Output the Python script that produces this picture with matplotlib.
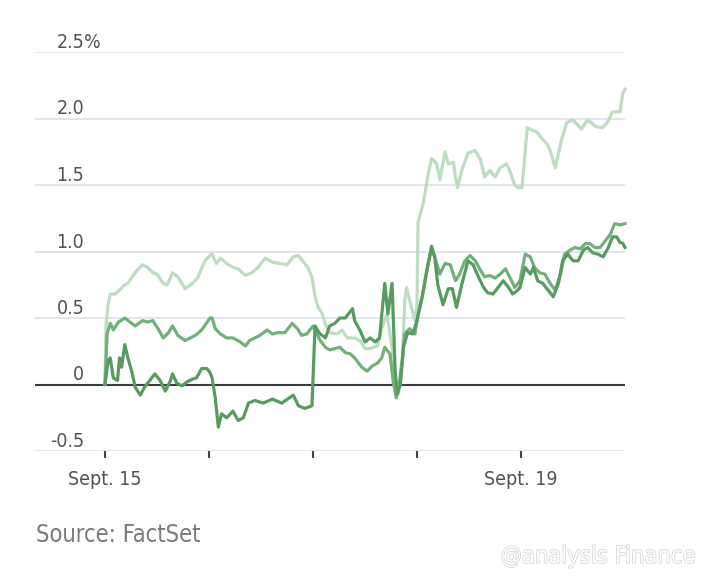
import matplotlib
matplotlib.use("Agg")
import matplotlib.pyplot as plt
import matplotlib.patheffects as pe

plt.rcParams['font.family'] = ['DejaVu Sans']
plt.rcParams['font.stretch'] = 'condensed'

# time in trading days since the open of Sept. 15
light_t = [0.00, 0.01, 0.03, 0.05, 0.10, 0.14, 0.19, 0.22, 0.26, 0.31, 0.36, 0.41, 0.46, 0.50, 0.56, 0.60,
           0.65, 0.70, 0.77, 0.84, 0.89, 0.96, 1.01, 1.03, 1.07, 1.11, 1.17, 1.23, 1.28, 1.35, 1.41, 1.47,
           1.54, 1.61, 1.68, 1.75, 1.81, 1.86, 1.90, 1.95, 1.99, 2.02, 2.05, 2.09, 2.12, 2.16, 2.23, 2.28,
           2.33, 2.40, 2.45, 2.50, 2.55, 2.62, 2.66, 2.71, 2.76, 2.79, 2.82, 2.86, 2.88, 2.90, 2.93, 2.98,
           3.00, 3.01, 3.06, 3.11, 3.14, 3.19, 3.22, 3.27, 3.30, 3.35, 3.37, 3.39, 3.43, 3.49, 3.56, 3.61,
           3.65, 3.70, 3.75, 3.80, 3.86, 3.89, 3.94, 3.97, 4.01, 4.06, 4.11, 4.15, 4.20, 4.25, 4.28, 4.33,
           4.39, 4.44, 4.50, 4.58, 4.64, 4.72, 4.78, 4.83, 4.88, 4.95, 4.98, 5.00]
light_v = [0.00, 0.45, 0.60, 0.68, 0.68, 0.71, 0.75, 0.76, 0.81, 0.86, 0.90, 0.88, 0.84, 0.83, 0.76, 0.75,
           0.84, 0.81, 0.72, 0.76, 0.80, 0.93, 0.97, 0.98, 0.91, 0.95, 0.91, 0.88, 0.87, 0.82, 0.84, 0.88,
           0.95, 0.92, 0.91, 0.90, 0.96, 0.97, 0.93, 0.88, 0.81, 0.66, 0.58, 0.53, 0.45, 0.39, 0.38, 0.41,
           0.35, 0.35, 0.33, 0.27, 0.27, 0.29, 0.42, 0.53, 0.28, 0.03, -0.07, 0.16, 0.61, 0.73, 0.63, 0.48,
           0.60, 1.22, 1.36, 1.59, 1.70, 1.66, 1.54, 1.75, 1.66, 1.67, 1.56, 1.48, 1.61, 1.74, 1.76, 1.69,
           1.56, 1.61, 1.56, 1.63, 1.66, 1.61, 1.50, 1.48, 1.48, 1.93, 1.91, 1.90, 1.85, 1.81, 1.76, 1.63,
           1.84, 1.97, 1.99, 1.92, 1.99, 1.94, 1.93, 1.97, 2.05, 2.05, 2.19, 2.22]

medium_t = [0.00, 0.02, 0.05, 0.08, 0.13, 0.19, 0.24, 0.29, 0.36, 0.41, 0.46, 0.51, 0.56, 0.61, 0.65, 0.70,
            0.77, 0.82, 0.87, 0.93, 1.01, 1.03, 1.06, 1.11, 1.17, 1.23, 1.30, 1.35, 1.39, 1.44, 1.49, 1.56,
            1.61, 1.66, 1.73, 1.80, 1.85, 1.89, 1.94, 2.00, 2.05, 2.07, 2.12, 2.16, 2.21, 2.26, 2.31, 2.36,
            2.40, 2.47, 2.52, 2.57, 2.62, 2.66, 2.69, 2.74, 2.77, 2.80, 2.82, 2.86, 2.88, 2.93, 2.98, 3.01,
            3.05, 3.10, 3.14, 3.17, 3.22, 3.27, 3.32, 3.37, 3.41, 3.46, 3.51, 3.56, 3.61, 3.65, 3.70, 3.75,
            3.80, 3.85, 3.89, 3.94, 3.99, 4.04, 4.09, 4.13, 4.18, 4.23, 4.28, 4.33, 4.38, 4.42, 4.47, 4.52,
            4.57, 4.62, 4.66, 4.71, 4.76, 4.81, 4.86, 4.90, 4.95, 5.00]
medium_v = [0.00, 0.38, 0.46, 0.41, 0.47, 0.50, 0.47, 0.44, 0.48, 0.47, 0.48, 0.42, 0.35, 0.39, 0.44, 0.37,
            0.33, 0.35, 0.37, 0.41, 0.50, 0.50, 0.42, 0.38, 0.35, 0.35, 0.32, 0.29, 0.33, 0.35, 0.37, 0.41,
            0.38, 0.39, 0.39, 0.46, 0.42, 0.37, 0.38, 0.44, 0.36, 0.33, 0.28, 0.26, 0.27, 0.28, 0.24, 0.23,
            0.20, 0.13, 0.10, 0.14, 0.16, 0.20, 0.28, 0.23, 0.03, -0.10, -0.05, 0.20, 0.38, 0.42, 0.38, 0.53,
            0.66, 0.88, 1.02, 0.96, 0.83, 0.91, 0.90, 0.78, 0.83, 0.93, 0.97, 0.93, 0.86, 0.81, 0.82, 0.80,
            0.83, 0.87, 0.81, 0.73, 0.78, 0.98, 0.96, 0.88, 0.84, 0.83, 0.76, 0.71, 0.83, 0.98, 1.01, 1.03,
            1.02, 1.06, 1.06, 1.03, 1.03, 1.08, 1.13, 1.21, 1.20, 1.21]

dark_t = [0.00, 0.03, 0.05, 0.08, 0.12, 0.14, 0.16, 0.19, 0.22, 0.26, 0.29, 0.34, 0.38, 0.43, 0.48, 0.53,
          0.58, 0.63, 0.65, 0.69, 0.74, 0.79, 0.84, 0.88, 0.93, 0.98, 1.01, 1.03, 1.06, 1.09, 1.12, 1.17,
          1.23, 1.28, 1.33, 1.38, 1.44, 1.52, 1.61, 1.70, 1.81, 1.86, 1.92, 1.99, 2.02, 2.05, 2.07, 2.12,
          2.16, 2.21, 2.26, 2.31, 2.38, 2.40, 2.45, 2.50, 2.55, 2.60, 2.64, 2.69, 2.72, 2.76, 2.79, 2.81,
          2.84, 2.87, 2.91, 2.96, 3.00, 3.05, 3.10, 3.14, 3.17, 3.20, 3.25, 3.30, 3.34, 3.38, 3.43, 3.49,
          3.54, 3.59, 3.64, 3.68, 3.73, 3.78, 3.83, 3.88, 3.92, 3.97, 3.99, 4.04, 4.09, 4.12, 4.16, 4.21,
          4.26, 4.31, 4.36, 4.40, 4.45, 4.50, 4.55, 4.60, 4.64, 4.69, 4.74, 4.79, 4.84, 4.88, 4.92, 4.95,
          4.98, 5.00]
dark_v = [0.00, 0.18, 0.20, 0.05, 0.03, 0.20, 0.13, 0.30, 0.20, 0.09, -0.02, -0.08, -0.02, 0.03, 0.08, 0.03,
          -0.05, 0.03, 0.08, 0.01, -0.01, 0.02, 0.04, 0.05, 0.12, 0.12, 0.09, 0.05, -0.10, -0.32, -0.22, -0.25,
          -0.20, -0.27, -0.25, -0.14, -0.12, -0.14, -0.11, -0.14, -0.08, -0.16, -0.18, -0.16, 0.44, 0.40, 0.38, 0.35,
          0.44, 0.46, 0.50, 0.50, 0.57, 0.48, 0.41, 0.32, 0.35, 0.32, 0.35, 0.76, 0.53, 0.76, 0.10, -0.07,
          0.00, 0.28, 0.39, 0.38, 0.48, 0.66, 0.88, 1.04, 0.96, 0.75, 0.60, 0.72, 0.72, 0.58, 0.75, 0.93,
          0.90, 0.81, 0.73, 0.69, 0.68, 0.73, 0.78, 0.73, 0.68, 0.71, 0.73, 0.88, 0.83, 0.88, 0.78, 0.76,
          0.71, 0.66, 0.76, 0.93, 0.98, 0.93, 0.93, 1.01, 1.03, 0.99, 0.98, 0.96, 1.03, 1.11, 1.11, 1.07,
          1.06, 1.03]

y_ticks = [-0.5, 0.0, 0.5, 1.0, 1.5, 2.0, 2.5]
y_labels = ['-0.5', '0', '0.5', '1.0', '1.5', '2.0', '2.5']
day_ticks = [0, 1, 2, 3, 4]
day_labels = ['Sept. 15', '', '', '', 'Sept. 19']

LIGHT = '#bedcc2'
MEDIUM = '#72b07b'
DARK = '#579b61'
GRID = '#dfe4ea'
TEXT = '#505255'

fig = plt.figure(figsize=(7.04, 5.84), dpi=100)
ax = fig.add_axes([35/704, 1 - 451/584, 590/704, 399/584])
ax.set_xlim(-0.673, 5.0)
ax.set_ylim(-0.5, 2.5)

for v in y_ticks:
    if v == 0:
        ax.axhline(v, color='#3a3d42', lw=1.5, zorder=1)
    else:
        ax.axhline(v, color=GRID, lw=1.3, zorder=1)

ax.plot(light_t, light_v, color=LIGHT, lw=2.3, zorder=2, solid_joinstyle='round', clip_on=False)
ax.plot(medium_t, medium_v, color=MEDIUM, lw=2.3, zorder=3, solid_joinstyle='round', clip_on=False)
ax.plot(dark_t, dark_v, color=DARK, lw=2.3, zorder=4, solid_joinstyle='round', clip_on=False)

for v, lab in zip(y_ticks, y_labels):
    ax.annotate(lab, xy=(-0.2, v), xytext=(0, 0), textcoords='offset points',
                ha='right', va='bottom', fontsize=14, color=TEXT)
    if v == 2.5:
        ax.annotate('%', xy=(-0.2, v), xytext=(0, 0), textcoords='offset points',
                    ha='left', va='bottom', fontsize=14, color=TEXT)

ax.set_yticks([])
ax.set_xticks(day_ticks)
ax.set_xticklabels(day_labels, fontsize=14, color=TEXT)
ax.tick_params(axis='x', length=5, width=1.5, color='#444444', pad=9, direction='out')
for s in ax.spines.values():
    s.set_visible(False)

fig.text(36/704, 1 - 535/584, 'Source: FactSet', fontsize=17, color='#7a7a7a',
         ha='left', va='center')

fig.text(695/704, 1 - 556/584, '@analysis Finance', fontsize=17, color='white',
         ha='right', va='center',
         path_effects=[pe.withStroke(linewidth=1.0, foreground='#d0d0d0')])

fig.savefig('out.png', dpi=100)
